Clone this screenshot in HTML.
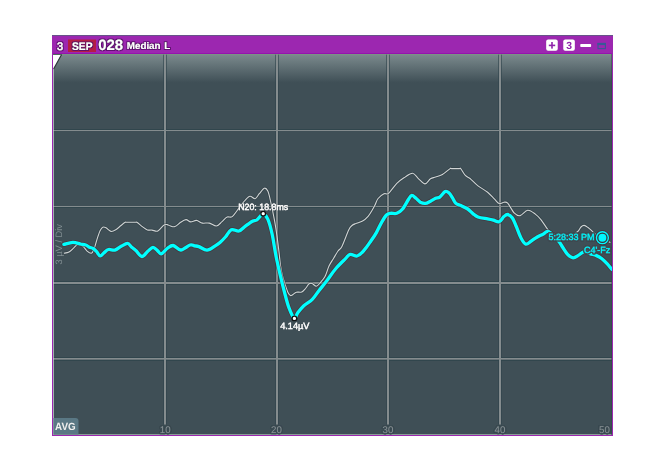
<!DOCTYPE html>
<html><head><meta charset="utf-8"><style>
html,body{margin:0;padding:0;background:#fff;width:665px;height:471px;overflow:hidden}
svg{position:absolute;left:0;top:0;font-family:"Liberation Sans",sans-serif;will-change:transform;text-rendering:geometricPrecision}
</style></head><body>
<svg width="665" height="471" viewBox="0 0 665 471">
<defs>
<linearGradient id="bg" x1="0" y1="0" x2="0" y2="1">
<stop offset="0" stop-color="#7c8b8e"/>
<stop offset="0.075" stop-color="#3f4f56"/>
<stop offset="1" stop-color="#3f4f56"/>
</linearGradient>
<clipPath id="pc"><rect x="53" y="54" width="559" height="381"/></clipPath>
<filter id="ts" x="-20%" y="-50%" width="140%" height="200%"><feMorphology in="SourceAlpha" operator="dilate" radius="0.3" result="d"/><feGaussianBlur in="d" stdDeviation="0.5" result="b"/><feFlood flood-color="#1c2528" flood-opacity="0.8"/><feComposite in2="b" operator="in" result="s"/><feMerge><feMergeNode in="s"/><feMergeNode in="SourceGraphic"/></feMerge></filter><filter id="tsp" x="-20%" y="-50%" width="140%" height="200%"><feMorphology in="SourceAlpha" operator="dilate" radius="0.5" result="d"/><feGaussianBlur in="d" stdDeviation="0.5" result="b"/><feFlood flood-color="#5a0f6a" flood-opacity="0.9"/><feComposite in2="b" operator="in" result="s"/><feMerge><feMergeNode in="s"/><feMergeNode in="SourceGraphic"/></feMerge></filter><filter id="tsb" x="-20%" y="-50%" width="140%" height="200%"><feMorphology in="SourceAlpha" operator="dilate" radius="0.2" result="d"/><feGaussianBlur in="d" stdDeviation="0.5" result="b"/><feFlood flood-color="#5a0f6a" flood-opacity="0.6"/><feComposite in2="b" operator="in" result="s"/><feMerge><feMergeNode in="s"/><feMergeNode in="SourceGraphic"/></feMerge></filter><filter id="tsl" x="-20%" y="-50%" width="140%" height="200%"><feMorphology in="SourceAlpha" operator="dilate" radius="0.2" result="d"/><feGaussianBlur in="d" stdDeviation="0.5" result="b"/><feFlood flood-color="#1c2528" flood-opacity="0.6"/><feComposite in2="b" operator="in" result="s"/><feMerge><feMergeNode in="s"/><feMergeNode in="SourceGraphic"/></feMerge></filter><filter id="tsc" x="-20%" y="-50%" width="140%" height="200%"><feMorphology in="SourceAlpha" operator="dilate" radius="0.3" result="d"/><feGaussianBlur in="d" stdDeviation="0.4" result="b"/><feFlood flood-color="#3a1f28" flood-opacity="0.8"/><feComposite in2="b" operator="in" result="s"/><feMerge><feMergeNode in="s"/><feMergeNode in="SourceGraphic"/></feMerge></filter>
</defs>
<rect x="52" y="35" width="561" height="401" fill="#9c27b0"/>
<rect x="52" y="35" width="561" height="1" fill="#5a5f80" opacity="0.8"/><rect x="53" y="53" width="559" height="1" fill="#9410ac" opacity="0.8"/>
<rect x="53" y="54" width="559" height="381" fill="url(#bg)"/>
<g clip-path="url(#pc)">
<rect x="163" y="54" width="1" height="370.5" fill="#2e434b" opacity="0.6"/><rect x="166" y="54" width="1" height="370.5" fill="#2e434b" opacity="0.6"/><rect x="275" y="54" width="1" height="370.5" fill="#2e434b" opacity="0.6"/><rect x="278" y="54" width="1" height="370.5" fill="#2e434b" opacity="0.6"/><rect x="386" y="54" width="1" height="370.5" fill="#2e434b" opacity="0.6"/><rect x="389" y="54" width="1" height="370.5" fill="#2e434b" opacity="0.6"/><rect x="498" y="54" width="1" height="370.5" fill="#2e434b" opacity="0.6"/><rect x="501" y="54" width="1" height="370.5" fill="#2e434b" opacity="0.6"/><rect x="53" y="129" width="559" height="1" fill="#2e434b" opacity="0.8"/><rect x="53" y="207" width="559" height="1" fill="#2e434b" opacity="0.8"/><rect x="53" y="281" width="559" height="1" fill="#2e434b" opacity="0.8"/><rect x="53" y="284" width="559" height="1" fill="#2e434b" opacity="0.8"/><rect x="53" y="357" width="559" height="1" fill="#2e434b" opacity="0.8"/><rect x="53" y="360" width="559" height="1" fill="#2e434b" opacity="0.8"/><rect x="164" y="54" width="2" height="370.5" fill="#848c8e"/><rect x="276" y="54" width="2" height="370.5" fill="#848c8e"/><rect x="387" y="54" width="2" height="370.5" fill="#848c8e"/><rect x="499" y="54" width="2" height="370.5" fill="#848c8e"/><rect x="53" y="130" width="559" height="1" fill="#848c8e"/><rect x="53" y="206" width="559" height="1" fill="#848c8e"/><rect x="53" y="282" width="559" height="2" fill="#848c8e"/><rect x="53" y="358" width="559" height="1.6" fill="#848c8e"/>
<rect x="53" y="54" width="1" height="381" fill="#cfd8d8" opacity="0.7"/>
<rect x="53" y="434" width="559" height="1" fill="#9fb0a8" opacity="0.8"/><rect x="53" y="54" width="559" height="1" fill="#7a9a82" opacity="0.6"/><rect x="611" y="54" width="1" height="381" fill="#2a4a40" opacity="0.5"/>
<path d="M63.9,253.3 C64.8,253.1 67.3,252.9 69.0,252.0 C70.7,251.1 72.6,248.9 74.1,247.6 C75.6,246.3 76.4,244.6 77.9,244.4 C79.4,244.2 81.5,245.2 83.0,246.3 C84.5,247.4 85.4,249.6 86.8,250.8 C88.2,252.0 90.1,253.5 91.3,253.3 C92.5,253.1 93.0,251.8 93.9,249.5 C94.9,247.2 96.0,242.5 97.0,239.3 C98.0,236.1 99.2,232.4 100.2,230.4 C101.2,228.4 101.8,227.6 102.8,227.2 C103.8,226.8 104.6,227.1 106.0,227.8 C107.4,228.5 109.4,231.1 111.0,231.4 C112.6,231.7 114.1,230.8 115.8,229.8 C117.5,228.8 119.4,226.8 121.0,225.5 C122.6,224.2 124.2,222.8 125.2,222.3 C126.2,221.8 125.4,222.3 127.0,222.3 C128.6,222.3 133.3,222.3 135.0,222.3 C136.7,222.3 135.6,221.5 136.9,222.3 C138.2,223.1 140.9,225.6 142.7,226.9 C144.4,228.2 145.8,229.4 147.4,229.9 C149.0,230.4 150.2,229.9 152.0,230.1 C153.8,230.3 156.0,231.8 157.9,231.0 C159.8,230.2 162.1,226.3 163.7,225.2 C165.2,224.1 166.1,224.5 167.2,224.6 C168.2,224.7 168.7,225.5 170.0,225.8 C171.3,226.1 173.1,227.2 174.9,226.6 C176.7,226.0 178.8,223.5 180.6,222.3 C182.4,221.1 184.3,219.7 186.0,219.6 C187.7,219.5 188.9,221.8 190.7,221.9 C192.4,222.0 194.6,220.2 196.5,220.4 C198.4,220.6 200.2,222.7 202.4,223.1 C204.6,223.5 207.1,222.6 209.4,223.1 C211.7,223.6 214.3,226.2 216.4,226.0 C218.5,225.8 220.2,223.2 222.0,221.7 C223.8,220.2 225.4,217.9 227.1,217.1 C228.8,216.2 230.2,218.1 232.2,216.6 C234.2,215.1 236.9,210.8 239.0,208.1 C241.1,205.4 243.1,202.5 244.9,200.5 C246.7,198.5 248.3,196.5 250.0,196.2 C251.7,195.9 253.5,199.2 255.1,198.8 C256.6,198.4 257.8,195.5 259.3,193.7 C260.9,191.9 263.0,188.6 264.4,188.2 C265.8,187.8 266.8,189.0 267.8,191.1 C268.8,193.2 269.3,195.6 270.4,200.5 C271.5,205.4 273.5,214.9 274.6,220.8 C275.7,226.7 276.3,230.8 277.0,236.0 C277.7,241.2 278.4,247.1 279.0,252.0 C279.6,256.9 279.9,261.5 280.5,265.5 C281.1,269.5 281.6,272.5 282.5,276.0 C283.4,279.5 284.9,283.9 285.8,286.7 C286.7,289.4 287.2,291.0 288.0,292.5 C288.8,294.0 289.7,295.3 290.5,295.6 C291.3,295.9 292.0,295.1 293.0,294.5 C294.0,293.9 294.9,292.6 296.4,292.2 C297.8,291.8 300.2,292.6 301.7,292.0 C303.2,291.4 304.3,289.9 305.5,288.5 C306.7,287.1 308.0,284.6 309.1,283.8 C310.2,283.0 310.8,283.1 312.0,283.5 C313.2,283.9 315.0,286.4 316.3,286.3 C317.6,286.2 318.6,284.6 320.0,283.0 C321.4,281.4 323.5,279.3 325.0,276.5 C326.5,273.7 327.6,269.0 329.0,266.0 C330.4,263.0 332.0,261.0 333.5,258.5 C335.0,256.0 336.6,253.0 338.0,251.0 C339.4,249.0 340.1,249.9 341.9,246.4 C343.7,242.9 347.1,233.3 348.8,229.8 C350.5,226.3 350.9,226.5 352.0,225.5 C353.1,224.5 353.9,224.3 355.7,223.6 C357.5,222.8 360.5,222.2 362.6,221.0 C364.7,219.8 366.5,218.1 368.1,216.3 C369.7,214.6 370.9,212.4 372.0,210.5 C373.1,208.6 374.0,207.0 375.0,205.0 C376.0,203.0 376.6,200.4 378.1,198.5 C379.6,196.6 382.2,194.7 384.0,193.8 C385.8,192.9 386.5,195.1 388.6,193.3 C390.7,191.6 394.1,186.0 396.8,183.3 C399.5,180.6 402.4,178.8 405.0,177.1 C407.6,175.4 410.3,173.0 412.6,173.3 C414.9,173.6 416.5,177.0 418.6,178.8 C420.7,180.6 423.0,183.9 425.0,183.9 C427.0,183.9 428.7,179.9 430.5,178.8 C432.3,177.7 433.6,177.8 435.6,177.1 C437.6,176.4 440.0,175.9 442.4,174.5 C444.8,173.1 448.6,169.6 450.1,168.6 C451.6,167.6 450.0,168.6 451.5,168.6 C453.0,168.6 457.8,168.6 459.3,168.6 C460.8,168.6 459.7,167.5 460.7,168.6 C461.7,169.7 463.7,173.7 465.3,175.4 C466.9,177.1 468.3,177.1 470.4,178.8 C472.5,180.6 475.1,183.7 478.0,185.9 C480.9,188.1 484.9,190.0 487.6,192.2 C490.3,194.4 492.4,197.0 494.3,198.9 C496.2,200.8 497.5,203.0 499.1,203.6 C500.7,204.2 502.5,202.4 503.9,202.3 C505.3,202.2 505.9,201.4 507.7,203.2 C509.4,205.0 512.3,211.1 514.4,213.2 C516.5,215.3 517.9,216.1 520.1,215.6 C522.3,215.1 525.2,210.6 527.7,210.3 C530.2,210.1 533.1,212.5 535.3,214.1 C537.5,215.7 539.0,217.2 541.1,219.8 C543.2,222.4 545.9,227.2 547.7,229.4 C549.5,231.6 550.0,231.9 552.0,233.0 C554.0,234.1 557.0,235.6 560.0,236.0 C563.0,236.4 567.1,236.2 570.0,235.5 C572.9,234.8 575.7,233.1 577.5,231.7 C579.3,230.3 579.9,228.1 581.0,227.0 C582.1,225.9 583.0,225.3 584.2,225.4 C585.4,225.5 586.6,226.5 588.0,227.5 C589.4,228.5 591.0,230.1 592.3,231.3 C593.6,232.5 593.0,232.6 596.0,234.5 C599.0,236.4 608.0,241.2 610.4,242.6" fill="none" stroke="#1e2a30" stroke-opacity="0.35" stroke-width="2.6" stroke-linejoin="round"/><path d="M63.9,253.3 C64.8,253.1 67.3,252.9 69.0,252.0 C70.7,251.1 72.6,248.9 74.1,247.6 C75.6,246.3 76.4,244.6 77.9,244.4 C79.4,244.2 81.5,245.2 83.0,246.3 C84.5,247.4 85.4,249.6 86.8,250.8 C88.2,252.0 90.1,253.5 91.3,253.3 C92.5,253.1 93.0,251.8 93.9,249.5 C94.9,247.2 96.0,242.5 97.0,239.3 C98.0,236.1 99.2,232.4 100.2,230.4 C101.2,228.4 101.8,227.6 102.8,227.2 C103.8,226.8 104.6,227.1 106.0,227.8 C107.4,228.5 109.4,231.1 111.0,231.4 C112.6,231.7 114.1,230.8 115.8,229.8 C117.5,228.8 119.4,226.8 121.0,225.5 C122.6,224.2 124.2,222.8 125.2,222.3 C126.2,221.8 125.4,222.3 127.0,222.3 C128.6,222.3 133.3,222.3 135.0,222.3 C136.7,222.3 135.6,221.5 136.9,222.3 C138.2,223.1 140.9,225.6 142.7,226.9 C144.4,228.2 145.8,229.4 147.4,229.9 C149.0,230.4 150.2,229.9 152.0,230.1 C153.8,230.3 156.0,231.8 157.9,231.0 C159.8,230.2 162.1,226.3 163.7,225.2 C165.2,224.1 166.1,224.5 167.2,224.6 C168.2,224.7 168.7,225.5 170.0,225.8 C171.3,226.1 173.1,227.2 174.9,226.6 C176.7,226.0 178.8,223.5 180.6,222.3 C182.4,221.1 184.3,219.7 186.0,219.6 C187.7,219.5 188.9,221.8 190.7,221.9 C192.4,222.0 194.6,220.2 196.5,220.4 C198.4,220.6 200.2,222.7 202.4,223.1 C204.6,223.5 207.1,222.6 209.4,223.1 C211.7,223.6 214.3,226.2 216.4,226.0 C218.5,225.8 220.2,223.2 222.0,221.7 C223.8,220.2 225.4,217.9 227.1,217.1 C228.8,216.2 230.2,218.1 232.2,216.6 C234.2,215.1 236.9,210.8 239.0,208.1 C241.1,205.4 243.1,202.5 244.9,200.5 C246.7,198.5 248.3,196.5 250.0,196.2 C251.7,195.9 253.5,199.2 255.1,198.8 C256.6,198.4 257.8,195.5 259.3,193.7 C260.9,191.9 263.0,188.6 264.4,188.2 C265.8,187.8 266.8,189.0 267.8,191.1 C268.8,193.2 269.3,195.6 270.4,200.5 C271.5,205.4 273.5,214.9 274.6,220.8 C275.7,226.7 276.3,230.8 277.0,236.0 C277.7,241.2 278.4,247.1 279.0,252.0 C279.6,256.9 279.9,261.5 280.5,265.5 C281.1,269.5 281.6,272.5 282.5,276.0 C283.4,279.5 284.9,283.9 285.8,286.7 C286.7,289.4 287.2,291.0 288.0,292.5 C288.8,294.0 289.7,295.3 290.5,295.6 C291.3,295.9 292.0,295.1 293.0,294.5 C294.0,293.9 294.9,292.6 296.4,292.2 C297.8,291.8 300.2,292.6 301.7,292.0 C303.2,291.4 304.3,289.9 305.5,288.5 C306.7,287.1 308.0,284.6 309.1,283.8 C310.2,283.0 310.8,283.1 312.0,283.5 C313.2,283.9 315.0,286.4 316.3,286.3 C317.6,286.2 318.6,284.6 320.0,283.0 C321.4,281.4 323.5,279.3 325.0,276.5 C326.5,273.7 327.6,269.0 329.0,266.0 C330.4,263.0 332.0,261.0 333.5,258.5 C335.0,256.0 336.6,253.0 338.0,251.0 C339.4,249.0 340.1,249.9 341.9,246.4 C343.7,242.9 347.1,233.3 348.8,229.8 C350.5,226.3 350.9,226.5 352.0,225.5 C353.1,224.5 353.9,224.3 355.7,223.6 C357.5,222.8 360.5,222.2 362.6,221.0 C364.7,219.8 366.5,218.1 368.1,216.3 C369.7,214.6 370.9,212.4 372.0,210.5 C373.1,208.6 374.0,207.0 375.0,205.0 C376.0,203.0 376.6,200.4 378.1,198.5 C379.6,196.6 382.2,194.7 384.0,193.8 C385.8,192.9 386.5,195.1 388.6,193.3 C390.7,191.6 394.1,186.0 396.8,183.3 C399.5,180.6 402.4,178.8 405.0,177.1 C407.6,175.4 410.3,173.0 412.6,173.3 C414.9,173.6 416.5,177.0 418.6,178.8 C420.7,180.6 423.0,183.9 425.0,183.9 C427.0,183.9 428.7,179.9 430.5,178.8 C432.3,177.7 433.6,177.8 435.6,177.1 C437.6,176.4 440.0,175.9 442.4,174.5 C444.8,173.1 448.6,169.6 450.1,168.6 C451.6,167.6 450.0,168.6 451.5,168.6 C453.0,168.6 457.8,168.6 459.3,168.6 C460.8,168.6 459.7,167.5 460.7,168.6 C461.7,169.7 463.7,173.7 465.3,175.4 C466.9,177.1 468.3,177.1 470.4,178.8 C472.5,180.6 475.1,183.7 478.0,185.9 C480.9,188.1 484.9,190.0 487.6,192.2 C490.3,194.4 492.4,197.0 494.3,198.9 C496.2,200.8 497.5,203.0 499.1,203.6 C500.7,204.2 502.5,202.4 503.9,202.3 C505.3,202.2 505.9,201.4 507.7,203.2 C509.4,205.0 512.3,211.1 514.4,213.2 C516.5,215.3 517.9,216.1 520.1,215.6 C522.3,215.1 525.2,210.6 527.7,210.3 C530.2,210.1 533.1,212.5 535.3,214.1 C537.5,215.7 539.0,217.2 541.1,219.8 C543.2,222.4 545.9,227.2 547.7,229.4 C549.5,231.6 550.0,231.9 552.0,233.0 C554.0,234.1 557.0,235.6 560.0,236.0 C563.0,236.4 567.1,236.2 570.0,235.5 C572.9,234.8 575.7,233.1 577.5,231.7 C579.3,230.3 579.9,228.1 581.0,227.0 C582.1,225.9 583.0,225.3 584.2,225.4 C585.4,225.5 586.6,226.5 588.0,227.5 C589.4,228.5 591.0,230.1 592.3,231.3 C593.6,232.5 593.0,232.6 596.0,234.5 C599.0,236.4 608.0,241.2 610.4,242.6" fill="none" stroke="#d0d4d4" stroke-width="1.1" stroke-linejoin="round"/>
<path d="M63.9,244.4 C65.4,244.1 70.0,242.5 72.8,242.4 C75.6,242.3 78.4,243.6 80.5,244.0 C82.6,244.4 84.1,244.5 85.6,245.0 C87.1,245.5 88.1,246.6 89.4,247.2 C90.7,247.8 92.0,247.8 93.2,248.5 C94.4,249.2 95.2,250.2 96.4,251.4 C97.6,252.6 98.9,255.7 100.2,255.9 C101.5,256.1 102.6,253.8 104.0,252.7 C105.4,251.6 106.7,249.9 108.5,249.5 C110.3,249.1 112.8,250.6 114.9,250.1 C117.0,249.6 119.1,247.4 121.2,246.3 C123.3,245.2 125.9,243.3 127.6,243.4 C129.3,243.5 130.0,245.7 131.4,246.9 C132.8,248.1 134.2,249.0 135.9,250.6 C137.7,252.2 139.9,256.4 141.9,256.5 C143.9,256.6 146.0,252.8 147.8,251.3 C149.7,249.8 151.4,247.4 153.0,247.3 C154.6,247.2 156.1,249.5 157.5,250.6 C158.9,251.7 159.6,254.2 161.2,253.8 C162.8,253.5 165.2,249.9 167.2,248.5 C169.2,247.1 170.9,245.2 173.2,245.5 C175.5,245.8 178.0,250.1 180.8,250.0 C183.6,249.9 187.8,245.7 190.1,245.0 C192.4,244.3 193.0,245.5 194.5,245.8 C196.0,246.1 196.8,245.9 198.9,246.6 C201.0,247.3 204.3,250.3 207.0,250.2 C209.7,250.1 213.0,247.2 215.2,245.9 C217.4,244.6 218.3,244.0 220.0,242.5 C221.7,241.0 223.5,239.1 225.4,237.0 C227.3,234.9 229.0,230.7 231.3,229.7 C233.6,228.7 236.6,231.6 239.0,231.0 C241.4,230.4 243.4,227.5 245.7,225.9 C247.9,224.3 250.7,222.2 252.5,221.2 C254.3,220.2 255.4,221.0 256.8,220.0 C258.2,219.0 259.9,216.5 261.0,215.4 C262.1,214.3 262.1,213.1 263.2,213.7 C264.3,214.3 266.3,215.7 267.8,219.1 C269.3,222.5 270.7,227.7 272.1,234.0 C273.5,240.3 274.8,250.0 276.2,257.0 C277.6,264.0 279.1,270.1 280.5,276.1 C281.9,282.1 283.3,287.7 284.7,293.0 C286.1,298.3 287.4,303.7 289.0,307.9 C290.6,312.1 292.9,317.5 294.3,318.4 C295.7,319.3 295.9,315.3 297.5,313.2 C299.1,311.1 301.3,308.1 303.8,305.8 C306.3,303.5 309.8,301.9 312.3,299.4 C314.8,296.9 316.2,294.2 318.7,291.0 C321.2,287.8 324.4,284.0 327.2,280.3 C330.0,276.6 332.7,272.2 335.7,268.7 C338.7,265.2 342.6,261.5 345.0,259.1 C347.4,256.7 348.2,254.9 350.2,254.4 C352.2,253.9 355.0,256.4 357.1,256.0 C359.2,255.6 361.0,253.6 362.6,252.0 C364.2,250.4 365.6,248.3 367.0,246.5 C368.4,244.7 369.3,243.3 370.9,241.0 C372.5,238.7 374.6,235.8 376.4,232.6 C378.2,229.4 380.2,224.7 381.9,221.8 C383.6,218.9 385.1,216.4 386.5,215.0 C387.9,213.6 388.8,213.6 390.5,213.3 C392.2,213.0 394.8,214.0 396.8,213.3 C398.8,212.6 400.7,211.3 402.6,209.0 C404.5,206.7 406.9,201.8 408.4,199.5 C409.9,197.2 410.5,195.6 411.8,195.4 C413.1,195.2 414.6,197.2 416.0,198.3 C417.4,199.4 418.7,201.3 420.3,202.2 C421.9,203.0 423.7,203.6 425.4,203.4 C427.1,203.2 428.8,202.0 430.5,201.2 C432.2,200.3 434.1,199.0 435.6,198.3 C437.2,197.6 438.2,198.2 439.8,197.1 C441.4,196.0 443.6,192.3 445.2,191.6 C446.8,190.9 447.9,192.0 449.1,193.0 C450.3,194.0 451.4,196.1 452.5,197.8 C453.6,199.5 454.5,202.1 455.9,203.4 C457.3,204.7 459.0,204.7 461.0,205.6 C463.0,206.5 465.8,207.7 467.8,209.0 C469.8,210.3 471.2,212.3 472.9,213.6 C474.6,214.9 475.6,216.1 478.0,217.0 C480.4,217.9 485.0,218.4 487.6,218.9 C490.2,219.4 491.5,219.7 493.4,220.2 C495.3,220.7 497.4,222.4 499.1,221.8 C500.9,221.2 502.5,217.8 503.9,216.6 C505.3,215.4 506.3,214.3 507.7,214.5 C509.1,214.7 511.0,216.0 512.4,218.0 C513.8,220.0 514.9,223.2 516.3,226.5 C517.7,229.8 519.4,235.1 521.0,238.0 C522.6,240.9 524.0,243.6 525.8,244.1 C527.5,244.6 529.6,242.0 531.5,240.8 C533.4,239.6 535.4,238.1 537.3,237.0 C539.2,235.9 541.3,235.1 543.0,234.2 C544.7,233.2 546.0,231.2 547.7,231.3 C549.4,231.4 551.1,233.2 553.0,235.0 C554.9,236.8 557.7,239.8 559.3,241.9 C560.9,244.0 561.4,245.4 562.8,247.5 C564.2,249.6 565.9,252.7 567.6,254.4 C569.3,256.1 571.2,257.7 573.1,257.8 C575.0,257.9 576.9,256.1 578.7,255.1 C580.6,254.1 582.3,251.8 584.2,251.6 C586.1,251.3 588.0,252.9 590.0,253.6 C592.0,254.3 594.5,254.8 596.5,255.6 C598.5,256.4 600.1,257.3 601.9,258.7 C603.7,260.1 605.6,262.1 607.3,263.9 C609.0,265.7 611.2,268.6 612.0,269.5" fill="none" stroke="#4a2a30" stroke-opacity="0.6" stroke-width="4.8" stroke-linejoin="round" stroke-linecap="round"/>
<path d="M63.9,244.4 C65.4,244.1 70.0,242.5 72.8,242.4 C75.6,242.3 78.4,243.6 80.5,244.0 C82.6,244.4 84.1,244.5 85.6,245.0 C87.1,245.5 88.1,246.6 89.4,247.2 C90.7,247.8 92.0,247.8 93.2,248.5 C94.4,249.2 95.2,250.2 96.4,251.4 C97.6,252.6 98.9,255.7 100.2,255.9 C101.5,256.1 102.6,253.8 104.0,252.7 C105.4,251.6 106.7,249.9 108.5,249.5 C110.3,249.1 112.8,250.6 114.9,250.1 C117.0,249.6 119.1,247.4 121.2,246.3 C123.3,245.2 125.9,243.3 127.6,243.4 C129.3,243.5 130.0,245.7 131.4,246.9 C132.8,248.1 134.2,249.0 135.9,250.6 C137.7,252.2 139.9,256.4 141.9,256.5 C143.9,256.6 146.0,252.8 147.8,251.3 C149.7,249.8 151.4,247.4 153.0,247.3 C154.6,247.2 156.1,249.5 157.5,250.6 C158.9,251.7 159.6,254.2 161.2,253.8 C162.8,253.5 165.2,249.9 167.2,248.5 C169.2,247.1 170.9,245.2 173.2,245.5 C175.5,245.8 178.0,250.1 180.8,250.0 C183.6,249.9 187.8,245.7 190.1,245.0 C192.4,244.3 193.0,245.5 194.5,245.8 C196.0,246.1 196.8,245.9 198.9,246.6 C201.0,247.3 204.3,250.3 207.0,250.2 C209.7,250.1 213.0,247.2 215.2,245.9 C217.4,244.6 218.3,244.0 220.0,242.5 C221.7,241.0 223.5,239.1 225.4,237.0 C227.3,234.9 229.0,230.7 231.3,229.7 C233.6,228.7 236.6,231.6 239.0,231.0 C241.4,230.4 243.4,227.5 245.7,225.9 C247.9,224.3 250.7,222.2 252.5,221.2 C254.3,220.2 255.4,221.0 256.8,220.0 C258.2,219.0 259.9,216.5 261.0,215.4 C262.1,214.3 262.1,213.1 263.2,213.7 C264.3,214.3 266.3,215.7 267.8,219.1 C269.3,222.5 270.7,227.7 272.1,234.0 C273.5,240.3 274.8,250.0 276.2,257.0 C277.6,264.0 279.1,270.1 280.5,276.1 C281.9,282.1 283.3,287.7 284.7,293.0 C286.1,298.3 287.4,303.7 289.0,307.9 C290.6,312.1 292.9,317.5 294.3,318.4 C295.7,319.3 295.9,315.3 297.5,313.2 C299.1,311.1 301.3,308.1 303.8,305.8 C306.3,303.5 309.8,301.9 312.3,299.4 C314.8,296.9 316.2,294.2 318.7,291.0 C321.2,287.8 324.4,284.0 327.2,280.3 C330.0,276.6 332.7,272.2 335.7,268.7 C338.7,265.2 342.6,261.5 345.0,259.1 C347.4,256.7 348.2,254.9 350.2,254.4 C352.2,253.9 355.0,256.4 357.1,256.0 C359.2,255.6 361.0,253.6 362.6,252.0 C364.2,250.4 365.6,248.3 367.0,246.5 C368.4,244.7 369.3,243.3 370.9,241.0 C372.5,238.7 374.6,235.8 376.4,232.6 C378.2,229.4 380.2,224.7 381.9,221.8 C383.6,218.9 385.1,216.4 386.5,215.0 C387.9,213.6 388.8,213.6 390.5,213.3 C392.2,213.0 394.8,214.0 396.8,213.3 C398.8,212.6 400.7,211.3 402.6,209.0 C404.5,206.7 406.9,201.8 408.4,199.5 C409.9,197.2 410.5,195.6 411.8,195.4 C413.1,195.2 414.6,197.2 416.0,198.3 C417.4,199.4 418.7,201.3 420.3,202.2 C421.9,203.0 423.7,203.6 425.4,203.4 C427.1,203.2 428.8,202.0 430.5,201.2 C432.2,200.3 434.1,199.0 435.6,198.3 C437.2,197.6 438.2,198.2 439.8,197.1 C441.4,196.0 443.6,192.3 445.2,191.6 C446.8,190.9 447.9,192.0 449.1,193.0 C450.3,194.0 451.4,196.1 452.5,197.8 C453.6,199.5 454.5,202.1 455.9,203.4 C457.3,204.7 459.0,204.7 461.0,205.6 C463.0,206.5 465.8,207.7 467.8,209.0 C469.8,210.3 471.2,212.3 472.9,213.6 C474.6,214.9 475.6,216.1 478.0,217.0 C480.4,217.9 485.0,218.4 487.6,218.9 C490.2,219.4 491.5,219.7 493.4,220.2 C495.3,220.7 497.4,222.4 499.1,221.8 C500.9,221.2 502.5,217.8 503.9,216.6 C505.3,215.4 506.3,214.3 507.7,214.5 C509.1,214.7 511.0,216.0 512.4,218.0 C513.8,220.0 514.9,223.2 516.3,226.5 C517.7,229.8 519.4,235.1 521.0,238.0 C522.6,240.9 524.0,243.6 525.8,244.1 C527.5,244.6 529.6,242.0 531.5,240.8 C533.4,239.6 535.4,238.1 537.3,237.0 C539.2,235.9 541.3,235.1 543.0,234.2 C544.7,233.2 546.0,231.2 547.7,231.3 C549.4,231.4 551.1,233.2 553.0,235.0 C554.9,236.8 557.7,239.8 559.3,241.9 C560.9,244.0 561.4,245.4 562.8,247.5 C564.2,249.6 565.9,252.7 567.6,254.4 C569.3,256.1 571.2,257.7 573.1,257.8 C575.0,257.9 576.9,256.1 578.7,255.1 C580.6,254.1 582.3,251.8 584.2,251.6 C586.1,251.3 588.0,252.9 590.0,253.6 C592.0,254.3 594.5,254.8 596.5,255.6 C598.5,256.4 600.1,257.3 601.9,258.7 C603.7,260.1 605.6,262.1 607.3,263.9 C609.0,265.7 611.2,268.6 612.0,269.5" fill="none" stroke="#00ffff" stroke-width="3.3" stroke-linejoin="round" stroke-linecap="round"/>
</g>
<path d="M53,55 L61,55 L53.5,69 L53,69 Z" fill="#ffffff"/><path d="M61.5,54.8 L53.6,69" stroke="#2c3538" stroke-width="1.1"/><rect x="53" y="54" width="9" height="1" fill="#3a5a48" opacity="0.7"/>
<g filter="url(#tsp)" fill="#fff" font-weight="bold">
<text x="57" y="49.5" font-size="11" font-weight="normal" stroke="#fff" stroke-width="0.3">3</text>
</g>
<rect x="68" y="39.5" width="28" height="12.5" fill="#b41e44"/>
<g filter="url(#tsp)" fill="#fff" font-weight="bold">
<text x="72" y="49.5" font-size="11" textLength="20.5" lengthAdjust="spacingAndGlyphs">SEP</text>
<text x="98.2" y="50.4" font-size="15" textLength="25" lengthAdjust="spacingAndGlyphs">028</text>
<text x="126.8" y="49.2" font-size="9.8" word-spacing="1">Median L</text>
</g>
<g filter="url(#tsb)">
<rect x="546.2" y="39.4" width="11.5" height="11.3" rx="2" fill="#fff"/>
<rect x="563.3" y="39.4" width="11.5" height="11.3" rx="2" fill="#fff"/>
<rect x="580.3" y="43.9" width="10.8" height="3.1" rx="0.8" fill="#fff"/>
</g>
<rect x="548.8" y="44.6" width="6.4" height="1.6" fill="#8e24aa"/>
<rect x="551.2" y="42" width="1.6" height="6.6" fill="#8e24aa"/>
<text x="569.1" y="49" font-size="10.4" font-weight="bold" fill="#8e24aa" text-anchor="middle">3</text>
<rect x="598" y="43.5" width="7.4" height="5.1" fill="none" stroke="#3a5896" stroke-width="1.1"/>
<rect x="597.5" y="42.9" width="8.4" height="2.2" fill="#3a5896"/>
<g font-size="9.7" fill="#8a9396" filter="url(#tsl)">
<g stroke="#3b4b52" stroke-width="2.6" stroke-linejoin="round">
<text x="165.2" y="433.4" text-anchor="middle">10</text>
<text x="276.5" y="433.4" text-anchor="middle">20</text>
<text x="388" y="433.4" text-anchor="middle">30</text>
<text x="500" y="433.4" text-anchor="middle">40</text>
<text x="609.8" y="433.4" text-anchor="end">50</text>
</g>
<text x="165.2" y="433.4" text-anchor="middle">10</text>
<text x="276.5" y="433.4" text-anchor="middle">20</text>
<text x="388" y="433.4" text-anchor="middle">30</text>
<text x="500" y="433.4" text-anchor="middle">40</text>
<text x="609.8" y="433.4" text-anchor="end">50</text>
</g>
<text transform="translate(62.4,264.5) rotate(-90)" font-size="9.3" fill="#818e92">3 µV / Div</text>
<path d="M53.5,418 L75.5,418 Q78.5,418 78.5,421 L78.5,434.5 L53.5,434.5 Z" fill="#5a7884"/>
<text x="55" y="430" font-size="10.4" font-weight="bold" fill="#eef0f0" textLength="20.6" lengthAdjust="spacingAndGlyphs" filter="url(#tsl)">AVG</text>
<circle cx="263.2" cy="213.7" r="2.3" fill="#fff" stroke="#101415" stroke-width="1.3"/>
<circle cx="294.4" cy="318.4" r="2.3" fill="#fff" stroke="#101415" stroke-width="1.3"/>
<g font-size="9.2" fill="#fff" stroke="#fff" stroke-width="0.35" filter="url(#ts)">
<text x="238.2" y="209.8" textLength="50" lengthAdjust="spacingAndGlyphs">N20: 18.8ms</text>
<text x="280.2" y="328.8">4.14µV</text>
</g>
<g font-size="9" fill="#00f8ff" filter="url(#tsc)">
<text x="548.5" y="239.6" stroke="#3f4f56" stroke-width="3" stroke-linejoin="round">5:28:33 PM</text>
<text x="584" y="253.3" stroke="#3f4f56" stroke-width="3" stroke-linejoin="round">C4'-Fz</text>
<text x="548.5" y="239.6" stroke="#00f8ff" stroke-width="0.3">5:28:33 PM</text>
<text x="584" y="253.3" stroke="#00f8ff" stroke-width="0.3">C4'-Fz</text>
</g>
<circle cx="602.4" cy="237.7" r="7.6" fill="#3f4f56"/>
<circle cx="602.4" cy="237.7" r="5.95" fill="none" stroke="#3a1f28" stroke-opacity="0.6" stroke-width="3"/>
<circle cx="602.4" cy="237.7" r="5.95" fill="none" stroke="#00f8ff" stroke-width="1.4"/>
<circle cx="602.4" cy="237.7" r="4.6" fill="#3a1f28" fill-opacity="0.5"/>
<circle cx="602.4" cy="237.7" r="3.95" fill="#00f8ff"/>
</svg>
</body></html>
